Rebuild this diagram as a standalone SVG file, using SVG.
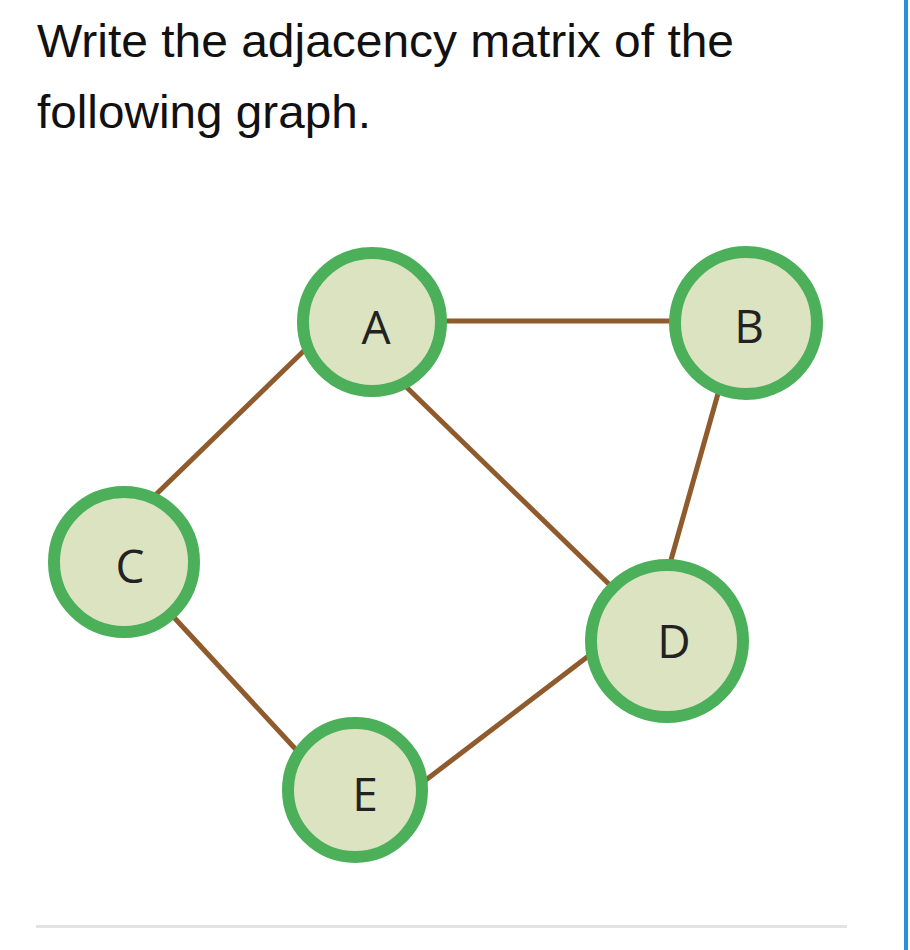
<svg xmlns="http://www.w3.org/2000/svg" width="910" height="950" viewBox="0 0 910 950">
<style>
.title{font-family:"Liberation Sans",Arial,sans-serif;font-size:46px;fill:#111;}
.node circle{fill:#dce3c1;stroke:#4caf5a;stroke-width:12;}
.node text{font-family:"Open Sans","Liberation Sans",sans-serif;font-size:46px;fill:#222;text-anchor:middle;}
.edge{stroke:#8f5a2c;stroke-width:5;stroke-linecap:butt;}
</style>
<rect width="910" height="950" fill="#ffffff"/>
<rect x="904" y="0" width="4" height="950" fill="#2a8fd8"/>
<text class="title" x="37" y="57" textLength="697" lengthAdjust="spacingAndGlyphs">Write the adjacency matrix of the</text>
<text class="title" x="37" y="128" textLength="334" lengthAdjust="spacingAndGlyphs">following graph.</text>
<rect x="36" y="925" width="811" height="3" fill="#e3e3e3"/>
<g id="connectors">
<line class="edge" x1="435" y1="321" x2="680" y2="321"/>
<line class="edge" x1="316" y1="339" x2="141" y2="509"/>
<line class="edge" x1="396" y1="377" x2="614" y2="589"/>
<line class="edge" x1="721" y1="383" x2="669" y2="567"/>
<line class="edge" x1="157" y1="599" x2="301" y2="755"/>
<line class="edge" x1="414" y1="789" x2="595" y2="651"/>
</g>
<g id="node-A" class="node"><circle cx="372" cy="322" r="69"/><text x="376" y="344">A</text></g>
<g id="node-B" class="node"><circle cx="746" cy="323" r="71"/><text x="749" y="343">B</text></g>
<g id="node-C" class="node"><circle cx="124" cy="562" r="70"/><text x="130" y="583">C</text></g>
<g id="node-D" class="node"><circle cx="667" cy="641" r="76"/><text x="674" y="658">D</text></g>
<g id="node-E" class="node"><circle cx="355" cy="790" r="67"/><text x="365" y="811">E</text></g>
</svg>
